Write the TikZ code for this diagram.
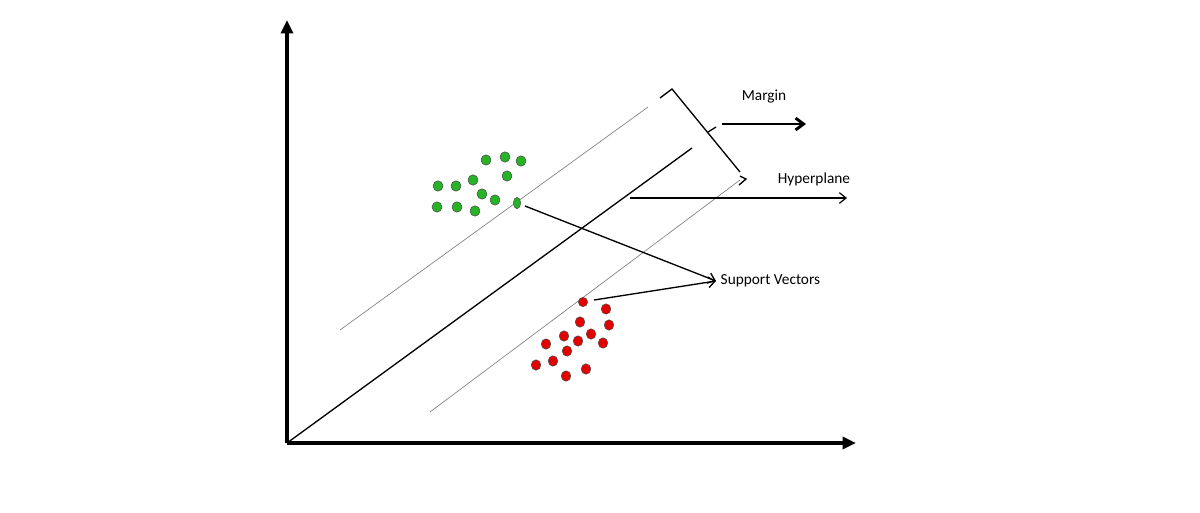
\documentclass[tikz,border=0pt]{standalone}
\usepackage{fontspec}
\setmainfont{Carlito}
\usetikzlibrary{arrows.meta,shapes.geometric}
\begin{document}
\begin{tikzpicture}[x=0.75pt,y=-0.75pt,
  g/.style={fill=green!65!black!85,draw=black!70,line width=0.4pt},
  r/.style={fill=red!90!black,draw=black!70,line width=0.4pt},
  axis/.style={line width=2.4pt,-{Triangle[length=10pt,width=9pt]}},
  mline/.style={gray,line width=0.5pt},
  lbl/.style={font=\fontsize{11.5}{13}\selectfont}]
\useasboundingbox (0,0) rectangle (1200,512);
\coordinate (O) at (287,443);
\coordinate (Ytop) at (287,20);
\coordinate (Xend) at (856,443);
\draw[axis] (O) -- (Ytop);
\draw[axis] (O) -- (Xend);
\coordinate (H2) at (692,148);
\draw[line width=1pt] (O) -- (H2);
\coordinate (U1) at (340,330); \coordinate (U2) at (648,107);
\coordinate (L1) at (430,412); \coordinate (L2) at (740,180);
\draw[mline] (U1) -- (U2);
\draw[mline] (L1) -- (L2);
% bracket
\coordinate (B0) at (660,98); \coordinate (B1) at (672,89); \coordinate (B2) at (740,172);
\coordinate (B2b) at (740,176);
\coordinate (B3) at (746,179); \coordinate (B4) at (739,185);
\draw[line width=1pt] (B0) -- (B1) -- (B2);
\draw[line width=1pt] (B2b) -- (B3) -- (B4);
\coordinate (T1) at (708,132); \coordinate (T2) at (716,127);
\draw[line width=1pt] (T1) -- (T2);
% margin
\node[lbl] (margin) at (764,97) {Margin};
\coordinate (MA) at (722,124); \coordinate (MB) at (806,124);
\draw[line width=2.2pt,-{Straight Barb[length=6pt,width=9pt]}] (MA) -- (MB);
% hyperplane
\node[lbl] (hyp) at (814,179) {Hyperplane};
\coordinate (HA) at (630,198); \coordinate (HB) at (847,198);
\draw[line width=0.9pt,-{Straight Barb[length=5pt,width=8pt]}] (HA) -- (HB);
% support vectors
\node[lbl,anchor=west] (sv) at (716,281) {Support Vectors};
% green dots
\foreach \x/\y in {438/186,456/186,473/180,486/160,505/157,521/161,507/176,482/194,495/200,437/207,457/207,475/211}
  \filldraw[g] (\x,\y) ellipse (5 and 5.2);
\node[g,ellipse,minimum width=5.5pt,minimum height=8.5pt,inner sep=0pt] (gs) at (517,203) {};
% red dots
\foreach \x/\y in {606/309,580/322,609/325,564/336,578/341,591/334,603/343,546/344,567/351,536/365,553/361,566/376,586/369}
  \filldraw[r] (\x,\y) ellipse (4.8 and 5.2);
\node[r,circle,minimum size=7pt,inner sep=0pt] (rs) at (583,302) {};
\coordinate (gsA) at (525,206);
\coordinate (rsA) at (594,300);
\draw[line width=1pt,-{Straight Barb[length=5pt,width=8pt]}] (gsA) -- (sv.west);
\draw[line width=1pt,-{Straight Barb[length=5pt,width=8pt]}] (rsA) -- (sv.west);
\end{tikzpicture}
\end{document}
